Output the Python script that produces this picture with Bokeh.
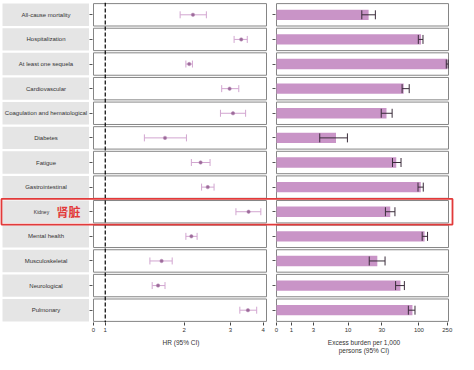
import numpy as np
from bokeh.plotting import figure
from bokeh.layouts import row
from bokeh.models import (Range1d, FixedTicker, CustomJSTickFormatter, ColumnDataSource,
                          Whisker, TeeHead, Span)
from bokeh.embed import file_html
from bokeh.resources import INLINE
from bokeh.core.properties import value

# ---------------- data ----------------
CATEGORIES = ["All-cause mortality", "Hospitalization", "At least one sequela", "Cardiovascular",
              "Coagulation and hematological", "Diabetes", "Fatigue", "Gastrointestinal",
              "Kidney", "Mental health", "Musculoskeletal", "Neurological", "Pulmonary"]
HR = [2.16, 3.30, 2.09, 2.98, 3.07, 1.69, 2.31, 2.46, 3.52, 2.13, 1.64, 1.59, 3.50]
HR_LOW = [1.93, 3.10, 2.03, 2.78, 2.75, 1.41, 2.13, 2.33, 3.15, 2.03, 1.48, 1.51, 3.26]
HR_HIGH = [2.43, 3.48, 2.15, 3.23, 3.43, 2.04, 2.51, 2.60, 3.92, 2.24, 1.80, 1.69, 3.78]
BURDEN = [19.6, 107.0, 250.0, 61.0, 35.0, 6.7, 48.0, 106.0, 39.5, 120.0, 26.0, 55.0, 81.0]
BURDEN_LOW = [15.7, 98.0, 242.0, 58.0, 29.5, 3.8, 42.5, 97.0, 33.8, 111.0, 20.0, 47.0, 71.0]
BURDEN_HIGH = [24.4, 114.0, 257.0, 73.0, 42.0, 9.8, 56.0, 115.0, 46.0, 132.0, 33.4, 62.4, 88.0]
HR_TICKS = [0, 1, 2, 3, 4]
BURDEN_TICKS = [0, 1, 3, 10, 30, 100, 250]
HR_AXIS_LABEL = "HR (95% CI)"
BURDEN_AXIS_LABEL = "Excess burden per 1,000\npersons (95% CI)"
HIGHLIGHT = "Kidney"
HIGHLIGHT_NOTE = "肾脏"

# axis domains
HR_ORIGIN, HR_END = 0.902, 4.12          # log-scaled HR axis ("0" drawn at origin)
BURDEN_END = 260.0                       # pseudo-log (asinh) burden axis


def pseudo_log(v):
    return np.arcsinh(np.asarray(v, dtype=float) / 2.0)


# ---------------- layout constants ----------------
N = len(CATEGORIES)
FRAME_H = 320
TOP = 2
PAD = 0.045
ys = [i + 0.5 for i in range(N)]
tops = [i + PAD for i in range(N)]
bots = [i + 1 - PAD for i in range(N)]
hi_idx = CATEGORIES.index(HIGHLIGHT)
box_top, box_bot = hi_idx - 0.02, hi_idx + 1.02
RED = "#e23a3a"
BORDER = "#858585"
TXT = "#333333"
FONT = "Liberation Sans"

FA, FB, FC = 89, 183, 183          # frame widths
LPAD = 4                           # px between frame left and panel left (ticks)
RPAD_B, RPAD_C = 6, 7              # px between panel right and frame right
RED_OUT = 4                        # red frame px beyond the burden panel


def base_fig(x_range, fw, **kw):
    p = figure(frame_width=fw, frame_height=FRAME_H, x_range=x_range, y_range=Range1d(N, 0),
               toolbar_location=None, output_backend="svg", min_border_top=TOP,
               min_border_left=0, min_border_right=0, min_border_bottom=0,
               outline_line_color=None, background_fill_color="white",
               border_fill_color="white", **kw)
    p.xgrid.visible = False
    p.ygrid.visible = False
    return p


def style_axes(p, label, fmt, ticks):
    ax = p.xaxis[0]
    ax.ticker = FixedTicker(ticks=ticks, minor_ticks=[])
    ax.formatter = fmt
    ax.axis_line_color = None
    ax.major_tick_in = 0
    ax.major_tick_out = 3
    ax.major_tick_line_color = "#444444"
    ax.major_label_text_font_size = "6px"
    ax.major_label_text_font = FONT
    ax.major_label_text_color = TXT
    ax.major_label_standoff = 2
    ax.axis_label = label
    ax.axis_label_text_font_size = "6.5px"
    ax.axis_label_text_font_style = "normal"
    ax.axis_label_text_font = FONT
    ax.axis_label_text_color = TXT
    ax.axis_label_standoff = 4
    ay = p.yaxis[0]
    ay.ticker = FixedTicker(ticks=ys, minor_ticks=[])
    ay.formatter = CustomJSTickFormatter(code="return '';")
    ay.axis_line_color = None
    ay.major_tick_in = 3
    ay.major_tick_out = 0
    ay.major_tick_line_color = "#555555"
    ay.major_label_text_font_size = "1px"
    ay.major_label_text_color = None
    ay.major_label_standoff = 0


# ---------------- label column ----------------
pa = base_fig(Range1d(0, FA), FA)
pa.xaxis.visible = False
pa.yaxis.visible = False
pa.quad(left=[2] * N, right=[FA] * N, top=tops, bottom=bots,
        fill_color="#e5e5e5", line_color=None)
others = [i for i in range(N) if i != hi_idx]
pa.text(x=[45.5] * len(others), y=[ys[i] for i in others], text=[CATEGORIES[i] for i in others],
        text_align="center", text_baseline="middle", text_font=value(FONT),
        text_font_size="6px", text_color=TXT)
pa.text(x=[41], y=[ys[hi_idx]], text=[HIGHLIGHT], text_align="center", text_baseline="middle",
        text_font=value(FONT), text_font_size="5px", text_color=TXT)
pa.text(x=[68], y=[ys[hi_idx]], text=[HIGHLIGHT_NOTE], text_align="center", text_baseline="middle",
        text_font=value("Noto Sans CJK SC"), text_font_size="12px", text_font_style="bold",
        text_color=RED)
pa.quad(left=[1], right=[FA + 50], top=[box_top], bottom=[box_bot],
        fill_color=None, line_color=RED, line_width=1.8, level="overlay")

# ---------------- HR column ----------------
k_hr = (FB - LPAD - RPAD_B) / np.log(HR_END / HR_ORIGIN)
hr_range = Range1d(HR_ORIGIN * np.exp(-LPAD / k_hr), HR_END * np.exp(RPAD_B / k_hr))
pb = base_fig(hr_range, FB, x_axis_type="log")
hr_tick_pos = [HR_ORIGIN if t == 0 else t for t in HR_TICKS]
style_axes(pb, HR_AXIS_LABEL,
           CustomJSTickFormatter(code="return tick < 0.95 ? '0' : tick.toFixed(0);"),
           hr_tick_pos)
pb.quad(left=[HR_ORIGIN] * N, right=[HR_END] * N, top=tops, bottom=bots,
        fill_color="white", line_color=BORDER, line_width=1)
pb.add_layout(Span(location=1, dimension="height", line_color="black", line_width=1.2,
                   line_dash="4 2", level="annotation"))
src_hr = ColumnDataSource(dict(y=ys, hr=HR, lo=HR_LOW, hi=HR_HIGH))
wb = Whisker(base="y", lower="lo", upper="hi", dimension="width", source=src_hr,
             line_color="#d2a6d0", line_width=1, level="annotation",
             upper_head=TeeHead(size=7, line_color="#d2a6d0", line_width=1),
             lower_head=TeeHead(size=7, line_color="#d2a6d0", line_width=1))
pb.add_layout(wb)
pb.scatter(x="hr", y="y", source=src_hr, size=3.5, fill_color="#9c6b9a",
           line_color="#b88ab6", line_width=0.5, level="overlay")
pb.quad(left=[hr_range.start / 2], right=[hr_range.end * 2], top=[box_top], bottom=[box_bot],
        fill_color=None, line_color=RED, line_width=1.8, level="overlay")

# ---------------- burden column ----------------
t_end = float(pseudo_log(BURDEN_END))
k_b = (FC - LPAD - RPAD_C) / t_end
pc = base_fig(Range1d(-LPAD / k_b, t_end + RPAD_C / k_b), FC)
style_axes(pc, BURDEN_AXIS_LABEL,
           CustomJSTickFormatter(code="return String(Math.round(2*Math.sinh(tick)));"),
           [float(v) for v in pseudo_log(BURDEN_TICKS)])
pc.quad(left=[0] * N, right=[t_end] * N, top=tops, bottom=bots,
        fill_color="white", line_color=BORDER, line_width=1)
src_b = ColumnDataSource(dict(y=ys, v=pseudo_log(BURDEN), lo=pseudo_log(BURDEN_LOW),
                              hi=pseudo_log(BURDEN_HIGH)))
pc.hbar(y="y", left=0, right="v", height=0.42, source=src_b, fill_color="#c994c7",
        line_color=None)
wc = Whisker(base="y", lower="lo", upper="hi", dimension="width", source=src_b,
             line_color="#3a2c3a", line_width=1, level="annotation",
             upper_head=TeeHead(size=9, line_color="#3a2c3a", line_width=1),
             lower_head=TeeHead(size=9, line_color="#3a2c3a", line_width=1))
pc.add_layout(wc)
pc.quad(left=[-5], right=[t_end + RED_OUT / k_b], top=[box_top], bottom=[box_bot],
        fill_color=None, line_color=RED, line_width=1.8, level="overlay")

layout = row(pa, pb, pc, spacing=0)
open("out.html", "w").write(file_html(layout, INLINE))
